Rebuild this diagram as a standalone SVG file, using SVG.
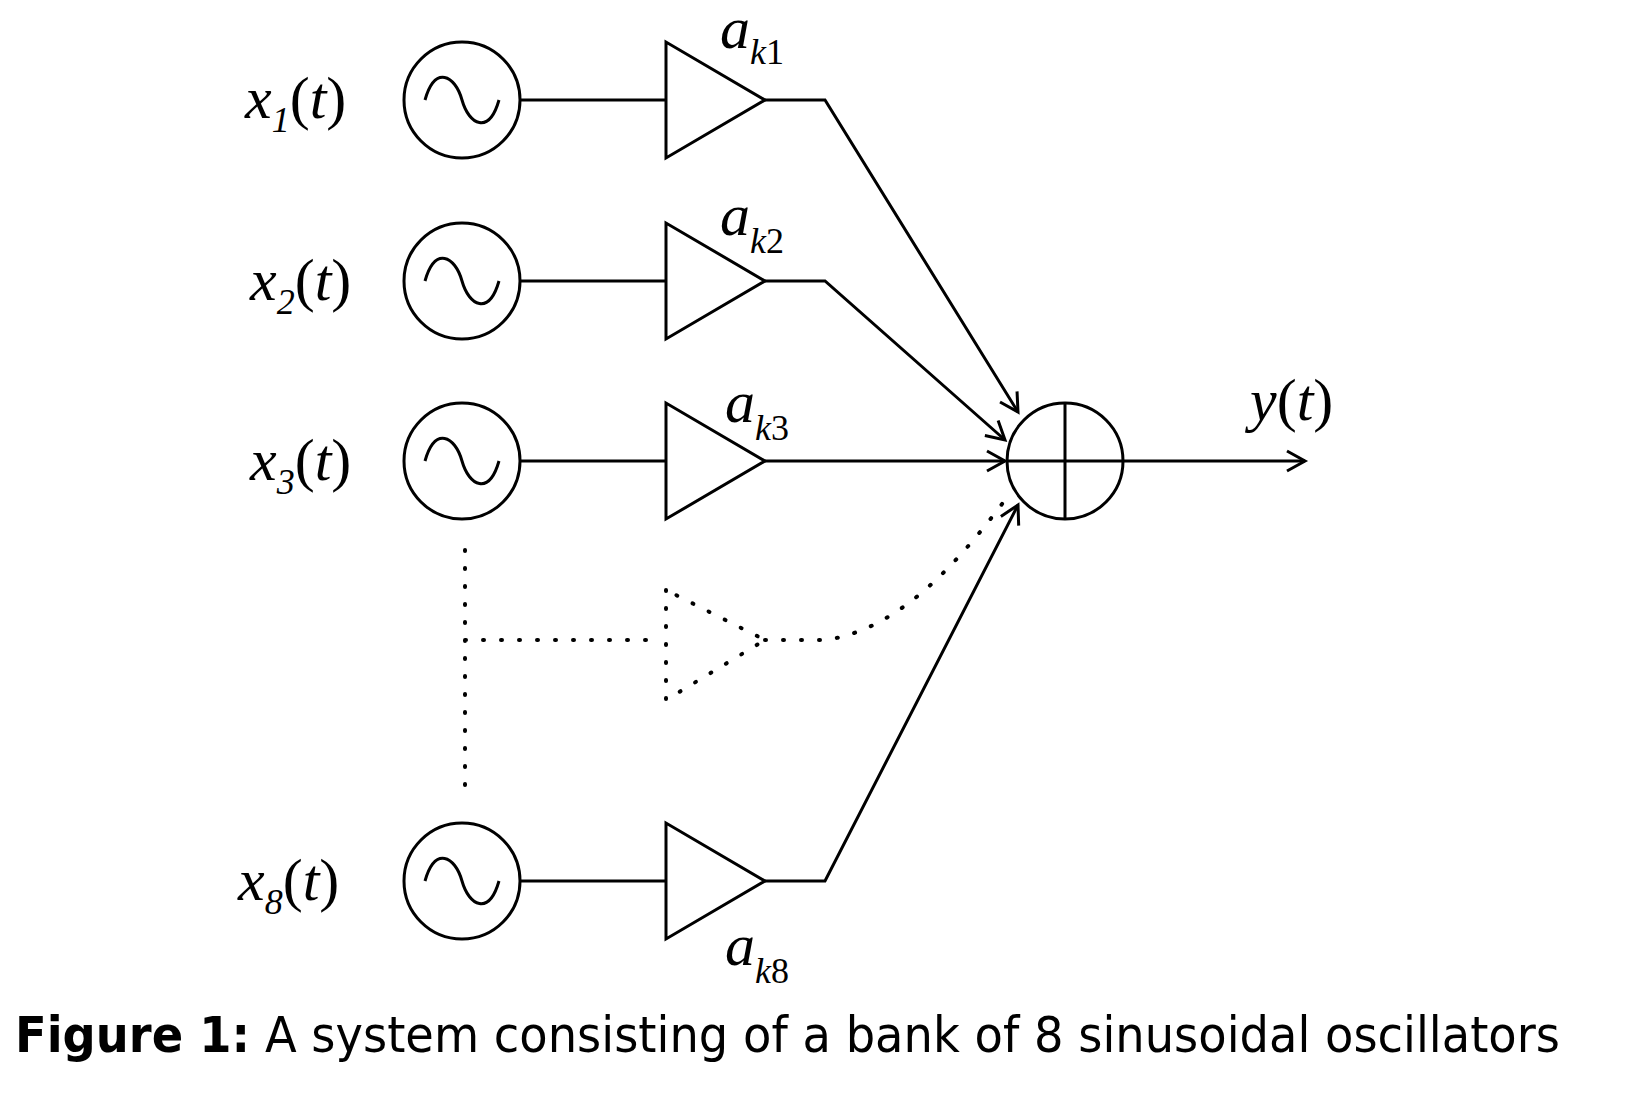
<svg xmlns="http://www.w3.org/2000/svg" width="1630" height="1117" viewBox="0 0 1630 1117">
<defs>
<style>
.s{fill:none;stroke:#000;stroke-width:3}
.d{fill:none;stroke:#000;stroke-width:4;stroke-dasharray:1 17;stroke-linecap:round}
.m{font-family:"Liberation Serif",serif;font-style:italic;font-size:60px}
.sub{font-size:36px}
.r{font-style:normal}
</style>
<marker id="a" markerWidth="24" markerHeight="24" refX="20" refY="12" orient="auto" markerUnits="userSpaceOnUse"><path d="M2 2 L20 12 L2 22" fill="none" stroke="#000" stroke-width="3"/></marker>
</defs>
<rect width="1630" height="1117" fill="#fff"/>
<g id="osc1"><circle class="s" cx="462" cy="100" r="58"/><path class="s" d="M425 100 C435 65 455 75 462 100 C469 125 489 135 499 100"/></g>
<g id="osc2"><circle class="s" cx="462" cy="281" r="58"/><path class="s" d="M425 281 C435 246 455 256 462 281 C469 306 489 316 499 281"/></g>
<g id="osc3"><circle class="s" cx="462" cy="461" r="58"/><path class="s" d="M425 461 C435 426 455 436 462 461 C469 486 489 496 499 461"/></g>
<g id="osc8"><circle class="s" cx="462" cy="881" r="58"/><path class="s" d="M425 881 C435 846 455 856 462 881 C469 906 489 916 499 881"/></g>
<g id="amp1"><path class="s" d="M666 42 L666 158 L765 100 Z"/></g>
<g id="amp2"><path class="s" d="M666 223 L666 339 L765 281 Z"/></g>
<g id="amp3"><path class="s" d="M666 403 L666 519 L765 461 Z"/></g>
<g id="amp8"><path class="s" d="M666 823 L666 939 L765 881 Z"/></g>
<g id="ampdots"><path class="d" d="M666 590 L666 700 L765 640 Z"/></g>
<g id="sum"><circle class="s" cx="1065" cy="461" r="58"/><path class="s" d="M1007 461 H1123 M1065 403 V519"/></g>
<g id="connectors">
<path class="s" d="M520 100 H666 M520 281 H666 M520 461 H666 M520 881 H666"/>
<path class="s" d="M765 100 H825 L1018 412" marker-end="url(#a)"/>
<path class="s" d="M765 281 H825 L1005 440" marker-end="url(#a)"/>
<path class="s" d="M765 461 H1005" marker-end="url(#a)"/>
<path class="s" d="M765 881 H825 L1018 505" marker-end="url(#a)"/>
<path class="s" d="M1123 461 H1305" marker-end="url(#a)"/>
<path class="d" d="M465 550 V800 M465 640 H660 M765 640 H825 C900 630 960 560 1005 500"/>
</g>
<g id="labels" class="m">
<text x="245" y="118">x<tspan class="sub" dy="14">1</tspan><tspan dy="-14" class="r">(</tspan>t<tspan class="r">)</tspan></text>
<text x="250" y="300">x<tspan class="sub" dy="14">2</tspan><tspan dy="-14" class="r">(</tspan>t<tspan class="r">)</tspan></text>
<text x="250" y="480">x<tspan class="sub" dy="14">3</tspan><tspan dy="-14" class="r">(</tspan>t<tspan class="r">)</tspan></text>
<text x="238" y="900">x<tspan class="sub" dy="14">8</tspan><tspan dy="-14" class="r">(</tspan>t<tspan class="r">)</tspan></text>
<text x="720" y="48">a<tspan class="sub" dy="16">k</tspan><tspan class="sub r">1</tspan></text>
<text x="720" y="235">a<tspan class="sub" dy="18">k</tspan><tspan class="sub r">2</tspan></text>
<text x="725" y="422">a<tspan class="sub" dy="18">k</tspan><tspan class="sub r">3</tspan></text>
<text x="725" y="965">a<tspan class="sub" dy="18">k</tspan><tspan class="sub r">8</tspan></text>
<text x="1250" y="420">y<tspan class="r">(</tspan>t<tspan class="r">)</tspan></text>
</g>
<text x="15" y="1052" font-family="DejaVu Sans,sans-serif" font-size="50" textLength="1545" lengthAdjust="spacingAndGlyphs"><tspan font-weight="bold">Figure 1:</tspan> A system consisting of a bank of 8 sinusoidal oscillators</text>
</svg>
